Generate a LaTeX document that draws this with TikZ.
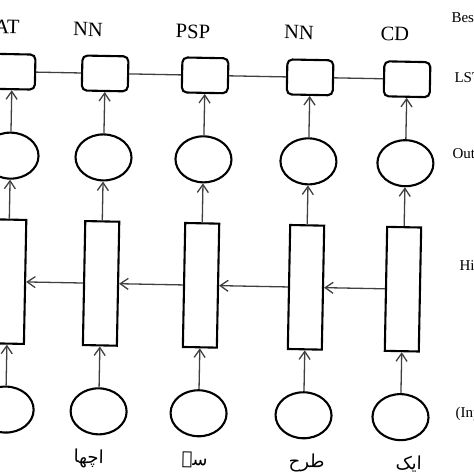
\documentclass[tikz,border=0pt]{standalone}
\usepackage{fontspec}
\setmainfont{Liberation Serif}
\newfontfamily\urdufont[Script=Arabic]{DejaVu Sans}
\TeXXeTstate=1
\usetikzlibrary{shapes.geometric,arrows.meta,positioning}

\tikzset{
  lstm/.style={draw,rounded corners=5pt,inner sep=0pt,minimum width=46pt,minimum height=35pt,line width=2.1pt},
  unit/.style={draw,ellipse,inner sep=0pt,minimum width=56pt,minimum height=46pt,line width=2.1pt},
  hidden/.style={draw,rectangle,inner sep=0pt,minimum width=34pt,minimum height=124pt,line width=2.1pt},
  link/.style={line width=1.3pt,black!75},
  feed/.style={link,-{Straight Barb[length=8pt,width=11pt]}},
  tag/.style={font=\fontsize{20.5}{24}\selectfont,anchor=base},
  word/.style={font=\urdufont\fontsize{18}{21}\selectfont,anchor=base},
  layer/.style={font=\fontsize{15}{18}\selectfont,anchor=base west}
}

\begin{document}
\begin{tikzpicture}[x=1pt,y=1pt,on grid]
  \useasboundingbox (0,0) rectangle (474,-474);
  \clip (0,0) rectangle (474,-474);
  \begin{scope}[rotate around={-1.1:(237,-237)},transform shape]
    % one column per word
    \foreach \i/\x in {0/9,1/102,2/202,3/307,4/404} {
      \node[lstm] (lstm\i) at (\x,-76) {};
      \node[unit] (out\i) [below=84pt of lstm\i] {};
      \node[hidden] (hid\i) [below=126pt of out\i] {};
      \node[unit] (in\i) [below=128pt of hid\i] {};
      \draw[feed] (in\i.north) -- (hid\i.south);
      \draw[feed] (hid\i.north) -- (out\i.south);
      \draw[feed] (out\i.north) -- (lstm\i.south);
    }
    \foreach \i/\j in {0/1,1/2,2/3,3/4} {
      \draw[link] (lstm\i.east) -- (lstm\j.west);
      \draw[feed] (hid\j.west) -- (hid\i.east);
    }
    % tags
    \node[tag,anchor=base east] (tag0) at (19,-38) {AT};
    \node[tag] (tag1) at (84,-39) {NN};
    \node[tag] (tag2) at (189,-39) {PSP};
    \node[tag] (tag3) at (295,-38) {NN};
    \node[tag] (tag4) at (391,-38) {CD};
    % words
    \node[word] (word1) at (93,-466) {\beginR اچھا\endR};
    \node[word] (word2) at (199,-466) {\beginR سے\endR};
    \node[word] (word3) at (311,-466) {\beginR طرح\endR};
    \node[word] (word4) at (413,-466) {\beginR ایک\endR};
  \end{scope}
  % layer names
  \node[layer] (bestlab) at (448,-22) {Best Tag Sequence};
  \node[layer] (lstmlab) at (451,-82) {LSTM Layer};
  \node[layer] (outlab) at (449,-158) {Output Layer};
  \node[layer] (hidlab) at (456,-270) {Hidden Layer};
  \node[layer] (inlab) at (452,-417) {(Input Layer)};
\end{tikzpicture}
\end{document}
